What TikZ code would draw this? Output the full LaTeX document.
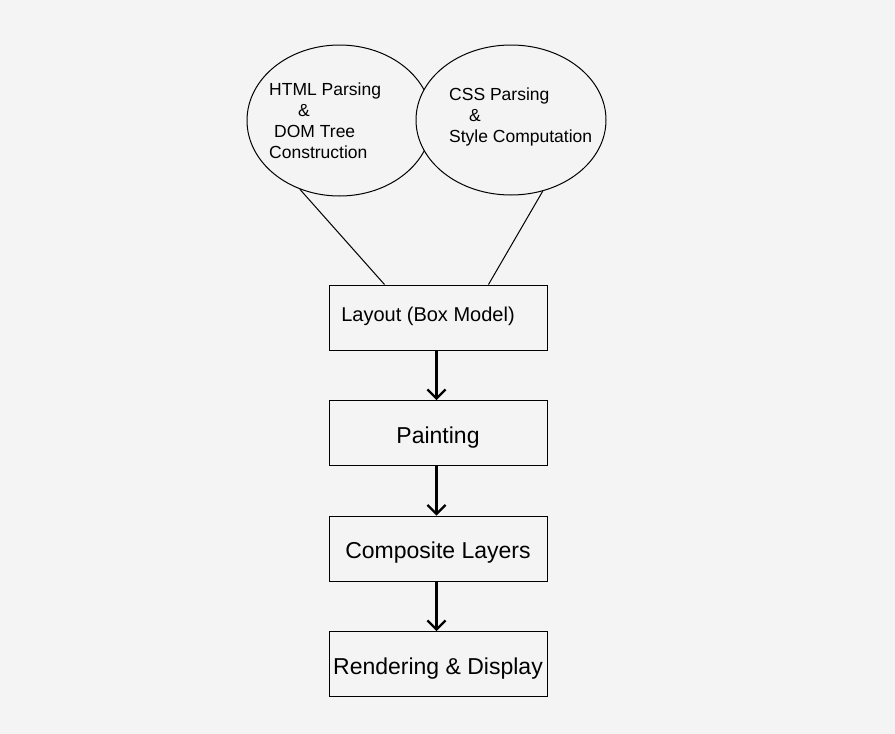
\documentclass[tikz,border=0pt]{standalone}
\usepackage{fontspec}
\setmainfont{Liberation Sans}
\usetikzlibrary{shapes.geometric,arrows.meta}
\definecolor{bggray}{RGB}{244,244,244}
\tikzset{
    stagebox/.style={draw, line width=1pt, fill=bggray, minimum width=218pt, minimum height=65pt, inner sep=0pt, text height=20pt, text depth=0pt, font=\fontsize{23}{27}\selectfont},
    parsebubble/.style={draw, ellipse, line width=1pt, fill=bggray, inner sep=0pt},
    bubbletext/.style={anchor=west, align=left, inner sep=0pt, font=\fontsize{17.5}{21}\selectfont},
    flow/.style={line width=2.4pt, -{Straight Barb[length=9pt,width=18pt,line width=2.2pt]}}
}
\begin{document}
\begin{tikzpicture}[x=1pt,y=-1pt]
        \useasboundingbox[fill=bggray] (0,0) rectangle (895,734);

        % parsing bubbles
        \node[parsebubble, minimum width=185pt, minimum height=151pt] (html) at (339.5,120.5) {};
        \node[parsebubble, minimum width=190pt, minimum height=150pt] (css) at (511,120) {};
        \node[bubbletext] (htmltext) at (269,120.5) {HTML Parsing\\\hspace*{29pt}\&\\\hspace*{5pt}DOM Tree\\Construction};
        \node[bubbletext] (csstext) at (449,117) {CSS Parsing\\\hspace*{20pt}\&\\Style Computation};

        % pipeline
        \node[stagebox, text height=11.3pt, text depth=4pt, font=\fontsize{20}{24}\selectfont] (layout) at (438,317.5) {\hspace*{-20pt}Layout (Box Model)};
        \node[stagebox] (paint) at (438,433) {Painting};
        \node[stagebox] (composite) at (438,548.5) {Composite Layers};
        \node[stagebox] (render) at (438,664) {Rendering \& Display};

        \draw[line width=1pt] (html.240) -- ([xshift=56pt]layout.north west);
        \draw[line width=1pt] (css.294) -- ([xshift=-59pt]layout.north east);

        \draw[flow] ([xshift=-1.5pt]layout.south) -- ([xshift=-1.5pt]paint.north);
        \draw[flow] ([xshift=-1.5pt]paint.south) -- ([xshift=-1.5pt]composite.north);
        \draw[flow] ([xshift=-1.5pt]composite.south) -- ([xshift=-1.5pt]render.north);

\end{tikzpicture}
\end{document}
